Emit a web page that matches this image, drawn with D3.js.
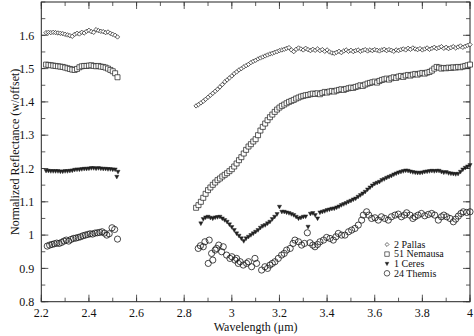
<!DOCTYPE html>
<html><head><meta charset="utf-8">
<script src="https://cdn.jsdelivr.net/npm/d3@7"></script>
<style>body{margin:0;background:#fff}svg{display:block}</style>
</head><body>
<script>
// ---- data ----
const xTicks = [2.2,2.4,2.6,2.8,3,3.2,3.4,3.6,3.8,4];
const yTicks = [0.8,0.9,1,1.1,1.2,1.3,1.4,1.5,1.6];
const seriesNames = ["2 Pallas","51 Nemausa","1 Ceres","24 Themis"];

// sampled segments: first wavelength, sampling step, reflectance values
const pallasLeftStart = 2.22, pallasLeftStep = 0.01;
const pallasLeft = [1.608,1.609,1.608,1.609,1.608,1.607,1.606,1.605,1.603,1.601,1.599,1.597,1.603,1.606,1.604,1.609,1.607,1.612,1.615,1.611,1.609,1.617,1.614,1.612,1.611,1.608,1.610,1.606,1.603,1.600,1.595];
const pallasRightStart = 2.85, pallasRightStep = 0.01;
const pallasRight = [1.388,1.392,1.397,1.402,1.408,1.414,1.420,1.426,1.432,1.438,1.445,1.452,1.460,1.466,1.472,1.478,1.485,1.490,1.496,1.500,1.505,1.509,1.513,1.518,1.522,1.525,1.529,1.532,1.535,1.538,1.541,1.544,1.546,1.549,1.551,1.554,1.556,1.558,1.561,1.563,1.556,1.551,1.558,1.562,1.559,1.556,1.561,1.557,1.554,1.558,1.555,1.559,1.554,1.557,1.552,1.556,1.550,1.547,1.546,1.549,1.552,1.548,1.553,1.556,1.552,1.555,1.551,1.554,1.556,1.552,1.555,1.557,1.553,1.556,1.554,1.557,1.555,1.553,1.556,1.558,1.554,1.557,1.555,1.552,1.556,1.554,1.557,1.559,1.556,1.561,1.558,1.562,1.559,1.557,1.560,1.556,1.559,1.562,1.558,1.561,1.564,1.560,1.563,1.566,1.561,1.564,1.560,1.563,1.566,1.562,1.565,1.568,1.564,1.567,1.570,1.572];

const nemausaLeftStart = 2.22, nemausaLeftStep = 0.01;
const nemausaLeft = [1.512,1.511,1.510,1.509,1.508,1.507,1.506,1.505,1.503,1.501,1.499,1.497,1.496,1.499,1.504,1.507,1.508,1.508,1.509,1.510,1.508,1.507,1.508,1.506,1.505,1.503,1.500,1.496,1.492,1.486,1.474];
const nemausaRightStart = 2.85, nemausaRightStep = 0.01;
const nemausaRight = [1.082,1.090,1.100,1.112,1.124,1.135,1.143,1.151,1.158,1.165,1.170,1.176,1.181,1.186,1.192,1.198,1.206,1.215,1.225,1.234,1.245,1.256,1.266,1.273,1.281,1.288,1.300,1.314,1.325,1.335,1.345,1.354,1.362,1.370,1.377,1.383,1.388,1.392,1.396,1.400,1.403,1.406,1.410,1.413,1.416,1.418,1.420,1.421,1.423,1.425,1.424,1.426,1.423,1.427,1.430,1.428,1.431,1.433,1.431,1.434,1.436,1.438,1.436,1.439,1.441,1.443,1.442,1.445,1.447,1.450,1.448,1.452,1.455,1.457,1.459,1.461,1.458,1.463,1.466,1.468,1.470,1.467,1.471,1.474,1.472,1.476,1.478,1.475,1.479,1.481,1.479,1.482,1.484,1.482,1.485,1.487,1.485,1.488,1.490,1.494,1.500,1.505,1.503,1.500,1.502,1.501,1.503,1.502,1.504,1.503,1.505,1.504,1.506,1.508,1.510,1.512];

const ceresLeftStart = 2.22, ceresLeftStep = 0.01;
const ceresLeft = [1.193,1.193,1.192,1.192,1.192,1.192,1.191,1.191,1.192,1.192,1.193,1.194,1.196,1.197,1.197,1.198,1.199,1.199,1.200,1.201,1.201,1.200,1.201,1.200,1.199,1.199,1.198,1.198,1.197,1.197];
const ceresLeftExtraWl = [2.517,2.522];
const ceresLeftExtra = [1.175,1.190];
const ceresRightStart = 2.87, ceresRightStep = 0.01;
const ceresRight = [1.035,1.048,1.053,1.055,1.052,1.050,1.053,1.054,1.055,1.050,1.045,1.040,1.032,1.024,1.015,1.005,0.998,0.990,0.982,0.990,0.995,1.000,1.005,1.010,1.015,1.022,1.027,1.030,1.035,1.040,1.048,1.055,1.063,1.085,1.070,1.070,1.068,1.066,1.063,1.060,1.055,1.050,1.052,1.055,1.056,1.025,1.064,1.066,1.060,1.050,1.068,1.070,1.072,1.075,1.077,1.079,1.080,1.083,1.086,1.090,1.093,1.096,1.100,1.103,1.107,1.110,1.115,1.120,1.125,1.130,1.137,1.143,1.149,1.154,1.157,1.160,1.165,1.168,1.172,1.175,1.178,1.182,1.185,1.188,1.190,1.192,1.194,1.193,1.191,1.189,1.188,1.187,1.187,1.188,1.190,1.191,1.192,1.193,1.192,1.193,1.193,1.190,1.188,1.189,1.186,1.185,1.184,1.183,1.184,1.190,1.197,1.202,1.206,1.210];

const themisLeftWl = [2.225,2.235,2.245,2.255,2.265,2.275,2.285,2.295,2.305,2.315,2.325,2.335,2.345,2.355,2.365,2.375,2.385,2.395,2.405,2.415,2.425,2.435,2.445,2.455,2.465,2.475,2.485,2.497,2.508,2.520];
const themisLeft = [0.967,0.970,0.972,0.974,0.976,0.975,0.978,0.982,0.985,0.982,0.987,0.990,0.991,0.993,0.995,0.998,1.000,1.002,1.004,1.003,1.006,1.007,1.008,1.010,1.006,1.000,1.004,1.022,1.017,0.988];
const themisRightWl = [2.859,2.868,2.880,2.887,2.901,2.905,2.915,2.920,2.930,2.936,2.945,2.957,2.964,2.978,2.992,3.000,3.013,3.020,3.027,3.035,3.048,3.062,3.070,3.083,3.097,3.104,3.125,3.139,3.150,3.160,3.170,3.181,3.195,3.209,3.220,3.230,3.245,3.257,3.265,3.280,3.293,3.305,3.317,3.328,3.340,3.349,3.360,3.370,3.385,3.398,3.412,3.426,3.437,3.447,3.461,3.475,3.490,3.503,3.517,3.531,3.545,3.552,3.566,3.575,3.587,3.601,3.615,3.628,3.642,3.657,3.670,3.685,3.699,3.712,3.725,3.734,3.748,3.760,3.769,3.782,3.796,3.810,3.825,3.839,3.852,3.867,3.880,3.890,3.902,3.916,3.930,3.940,3.951,3.962,3.972,3.986,4.000];
const themisRight = [0.960,0.968,0.965,0.980,0.915,0.985,0.945,0.925,0.955,0.960,0.970,0.950,0.965,0.940,0.930,0.935,0.925,0.930,0.915,0.920,0.910,0.915,0.920,0.905,0.930,0.915,0.895,0.905,0.900,0.910,0.915,0.920,0.930,0.940,0.945,0.955,0.960,0.975,0.985,0.980,0.970,0.975,1.007,0.977,0.970,0.965,0.972,0.980,0.985,0.993,0.990,0.985,0.995,1.005,1.000,1.000,1.010,1.015,1.020,1.030,1.045,1.060,1.070,1.060,1.050,1.052,1.045,1.055,1.050,1.045,1.055,1.060,1.063,1.055,1.060,1.067,1.060,1.050,1.055,1.060,1.065,1.058,1.062,1.065,1.060,1.045,1.055,1.060,1.055,1.050,1.040,1.048,1.057,1.065,1.070,1.068,1.070];

// ---- build ----
const W = 474, H = 336;
const FONT = "'Liberation Serif', 'Times New Roman', 'DejaVu Serif', serif";
const m = {left: 41.3, right: 4, top: 2, bottom: 34.3};
const svg = d3.select("body").append("svg").attr("width", W).attr("height", H)
  .attr("font-family", FONT);
const x = d3.scaleLinear().domain([2.2, 4]).range([m.left, W - m.right]);
const y = d3.scaleLinear().domain([0.8, 1.7]).range([H - m.bottom, m.top]);

const sampled = (start, step, vals) => vals.map((v, i) => [start + i * step, v]);
const paired = (wl, vals) => vals.map((v, i) => [wl[i], v]);

const pallas = sampled(pallasLeftStart, pallasLeftStep, pallasLeft).concat(sampled(pallasRightStart, pallasRightStep, pallasRight));
const nemausa = sampled(nemausaLeftStart, nemausaLeftStep, nemausaLeft).concat(sampled(nemausaRightStart, nemausaRightStep, nemausaRight));
const ceres = sampled(ceresLeftStart, ceresLeftStep, ceresLeft).concat(paired(ceresLeftExtraWl, ceresLeftExtra), sampled(ceresRightStart, ceresRightStep, ceresRight));
const themis = paired(themisLeftWl, themisLeft).concat(paired(themisRightWl, themisRight));

const stroke = "#1a1a1a";
const shapes = {
  diamond: s => `M0,${-s}L${s},0L0,${s}L${-s},0Z`,
  square: s => `M${-s},${-s}H${s}V${s}H${-s}Z`,
  tri: s => `M${-s},${-s*0.75}H${s}L0,${s*1.05}Z`,
  circle: s => `M${s},0A${s},${s} 0 1,1 ${-s},0A${s},${s} 0 1,1 ${s},0Z`
};
const styles = [
  {data: pallas, shape: shapes.diamond(2.2), fill: "#fff", sw: 0.7},
  {data: nemausa, shape: shapes.square(2.5), fill: "#fff", sw: 0.7},
  {data: ceres, shape: shapes.tri(2.1), fill: "#222", sw: 0.4},
  {data: themis, shape: shapes.circle(3.1), fill: "none", sw: 0.8}
];

// axes frame
const g = svg.append("g");
g.append("rect").attr("x", m.left).attr("y", m.top).attr("width", W - m.right - m.left).attr("height", H - m.bottom - m.top)
  .attr("fill", "none").attr("stroke", "#222").attr("stroke-width", 1);

const xMinor = d3.range(22, 41).map(d => d / 10);
const yMinor = d3.range(16, 35).map(d => d / 20);
function ticks(sel, vals, len, isX, pos) {
  vals.forEach(v => {
    if (isX) {
      const px = x(v);
      sel.append("line").attr("x1", px).attr("x2", px).attr("y1", pos).attr("y2", pos + len).attr("stroke", "#333").attr("stroke-width", 0.8);
    } else {
      const py = y(v);
      sel.append("line").attr("y1", py).attr("y2", py).attr("x1", pos).attr("x2", pos + len).attr("stroke", "#333").attr("stroke-width", 0.8);
    }
  });
}
ticks(g, xMinor, -4, true, H - m.bottom);
ticks(g, xTicks, -7, true, H - m.bottom);
ticks(g, xMinor, 4, true, m.top);
ticks(g, xTicks, 7, true, m.top);
ticks(g, yMinor, 4, false, m.left);
ticks(g, yTicks, 7, false, m.left);
ticks(g, yMinor, -4, false, W - m.right);
ticks(g, yTicks, -7, false, W - m.right);

g.selectAll(".xl").data(xTicks).enter().append("text")
  .attr("x", d => x(d)).attr("y", H - m.bottom + 15.5).attr("text-anchor", "middle").attr("font-size", 12).attr("fill", "#111")
  .text(d => d3.format("~g")(d));
g.selectAll(".yl").data(yTicks).enter().append("text")
  .attr("x", m.left - 7).attr("y", d => y(d) + 4.2).attr("text-anchor", "end").attr("font-size", 12).attr("fill", "#111")
  .text(d => d3.format("~g")(d));

svg.append("text").attr("x", (m.left + W - m.right) / 2).attr("y", H - 5.5).attr("text-anchor", "middle").attr("font-size", 12).attr("fill", "#111")
  .text("Wavelength (μm)");
svg.append("text").attr("transform", `translate(19,${(m.top + H - m.bottom) / 2}) rotate(-90)`).attr("text-anchor", "middle").attr("font-size", 12).attr("fill", "#111")
  .text("Normalized Reflectance (w/offset)");

// series
styles.forEach(s => {
  svg.append("g").selectAll("path").data(s.data).enter().append("path")
    .attr("d", s.shape).attr("transform", d => `translate(${x(d[0])},${y(d[1])})`)
    .attr("fill", s.fill).attr("stroke", stroke).attr("stroke-width", s.sw);
});

// legend
const lg = svg.append("g");
seriesNames.forEach((n, i) => {
  const ly = 244.5 + i * 9.6;
  lg.append("path").attr("d", styles[i].shape).attr("transform", `translate(387,${ly}) scale(0.9)`)
    .attr("fill", styles[i].fill).attr("stroke", stroke).attr("stroke-width", styles[i].sw);
  lg.append("text").attr("x", 394).attr("y", ly + 3.2).attr("font-size", 10).attr("fill", "#111").text(n);
});
</script>
</body></html>
